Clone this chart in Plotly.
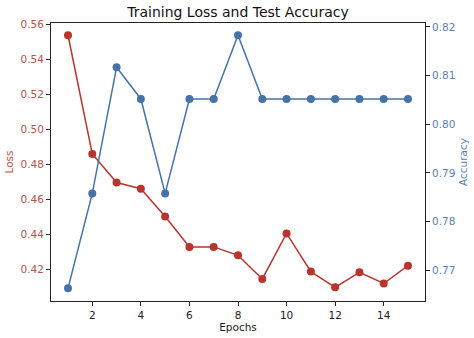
import plotly.graph_objects as go

epochs = list(range(1, 16))
train_loss = [0.5537, 0.4859, 0.4696, 0.4660, 0.4502, 0.4328, 0.4328, 0.4280,
              0.4145, 0.4405, 0.4187, 0.4097, 0.4183, 0.4119, 0.4221]
test_acc = [0.7663, 0.7858, 0.8117, 0.8052, 0.7858, 0.8052, 0.8052, 0.8183,
            0.8052, 0.8052, 0.8052, 0.8052, 0.8052, 0.8052, 0.8052]

loss_ticks = [0.42, 0.44, 0.46, 0.48, 0.50, 0.52, 0.54, 0.56]
acc_ticks = [0.77, 0.78, 0.79, 0.80, 0.81, 0.82]
epoch_ticks = [2, 4, 6, 8, 10, 12, 14]

RED = "#b8352e"
BLUE = "#4772a8"
RED_TXT = "#b5534d"
BLUE_TXT = "#5b82b2"
FONT = "DejaVu Sans"

fig = go.Figure()
fig.add_trace(go.Scatter(
    x=epochs, y=train_loss, mode="lines+markers", name="Loss",
    line=dict(color=RED, width=1.5), marker=dict(color=RED, size=8),
    yaxis="y"))
fig.add_trace(go.Scatter(
    x=epochs, y=test_acc, mode="lines+markers", name="Accuracy",
    line=dict(color=BLUE, width=1.5), marker=dict(color=BLUE, size=8),
    yaxis="y2"))

axis_common = dict(showgrid=False, zeroline=False, showline=True,
                   linecolor="#222", linewidth=1, ticks="outside",
                   ticklen=4, tickcolor="#222", tickwidth=1, automargin=False)

fig.update_layout(
    width=474, height=338,
    margin=dict(l=51, r=49, t=23, b=37),
    paper_bgcolor="white", plot_bgcolor="white",
    showlegend=False,
    font=dict(family=FONT, size=10, color="#222"),
    title=dict(text="Training Loss and Test Accuracy", x=0.502, xanchor="center",
               y=0.965, yanchor="middle", font=dict(size=14, color="#111")),
    xaxis=dict(**axis_common, range=[0.3, 15.7], tickvals=epoch_ticks,
               mirror=True,
               title=dict(text="Epochs", standoff=3, font=dict(size=10.5)),
               tickfont=dict(size=10.5, color="#222")),
    yaxis=dict(**axis_common, range=[0.4019, 0.5607], tickvals=loss_ticks,
               tickformat=".2f", tickfont=dict(size=10.5, color=RED_TXT),
               title=dict(text="Loss", standoff=4,
                          font=dict(size=10.5, color=RED_TXT))),
    yaxis2=dict(**axis_common, range=[0.7637, 0.8208], tickvals=acc_ticks,
                tickformat=".2f", overlaying="y", side="right",
                tickfont=dict(size=10.5, color=BLUE_TXT),
                title=dict(text="Accuracy", standoff=5,
                           font=dict(size=10.5, color=BLUE_TXT))),
)

fig.write_html("out.html")
